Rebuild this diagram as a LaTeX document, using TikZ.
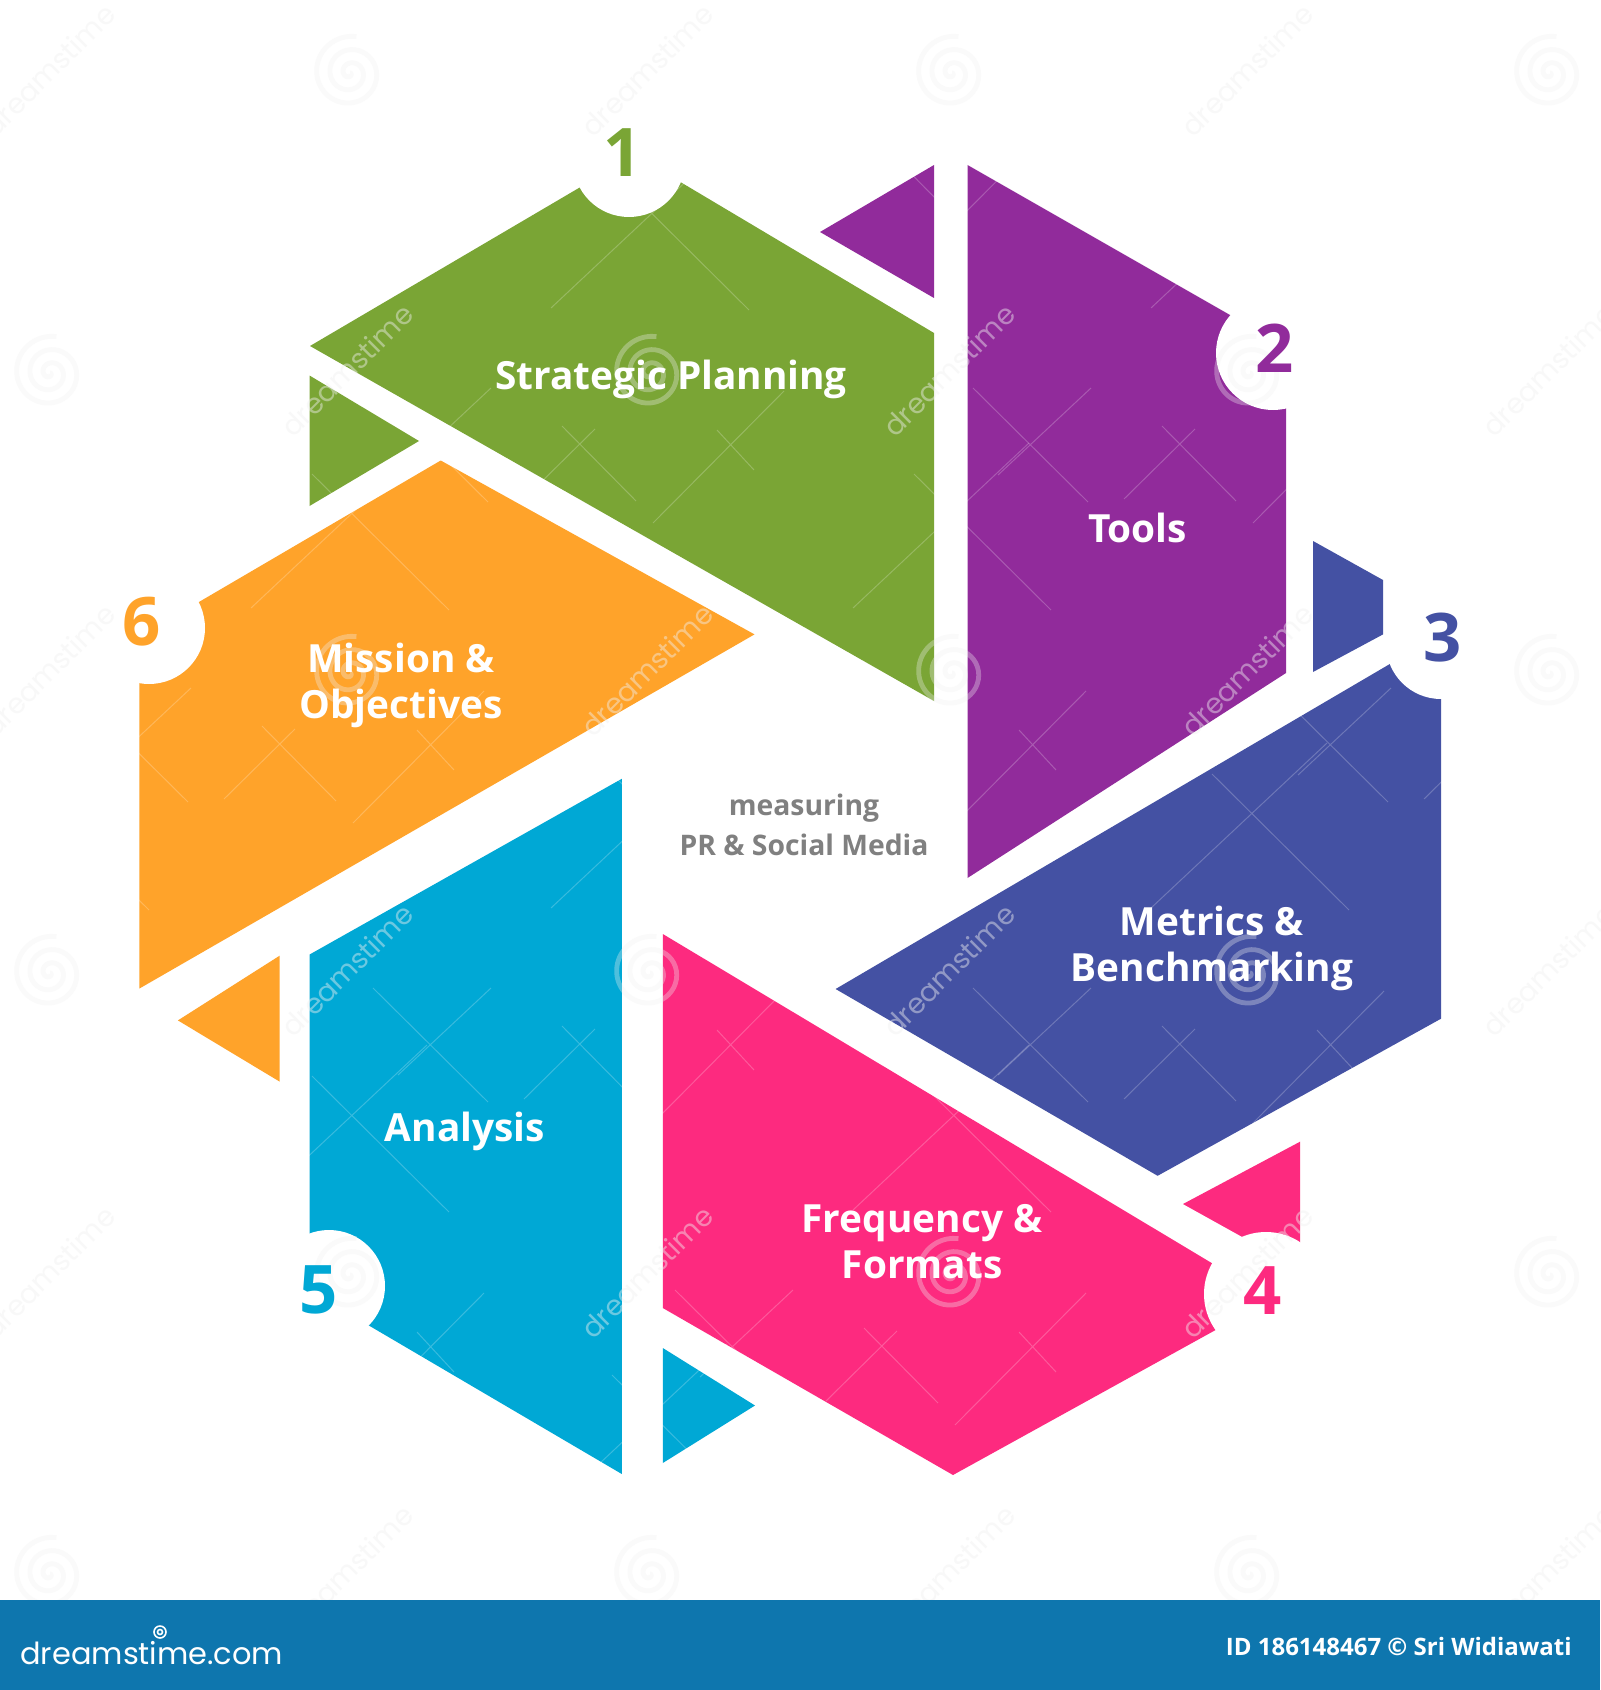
\documentclass[tikz,border=0pt]{standalone}
\usepackage{fontspec}
\setmainfont{Open Sans}
\newfontfamily\wmfont{Poppins}
\definecolor{cgreen}{HTML}{7AA535}
\definecolor{cpurple}{HTML}{912B9B}
\definecolor{cindigo}{HTML}{4451A3}
\definecolor{cpink}{HTML}{FD2A7F}
\definecolor{ccyan}{HTML}{00A8D5}
\definecolor{corange}{HTML}{FFA32A}
\definecolor{cbanner}{HTML}{0E76AE}
\definecolor{ctext}{HTML}{808080}
\definecolor{cmark}{HTML}{F0F0F0}
\tikzset{
  notch/.style={fill=white,draw=none},
  label/.style={text=white,font=\bfseries\fontsize{19.4}{23}\selectfont,align=center,inner sep=0pt},
  num/.style={font=\bfseries\fontsize{33.5}{34}\selectfont,inner sep=0pt},
  mline/.style={draw=cmark,opacity=0.33,line width=2.4pt},
  mtext/.style={text=cmark,text opacity=0.45,rotate=45,inner sep=0pt,font=\wmfont\fontsize{14}{14}\selectfont},
  lattice/.style={draw=white,opacity=0.22,line width=0.5pt},
}
\newcommand{\wmspiral}[2]{\draw[mline] plot[variable=\t,domain=0:1000,samples=110,smooth] ({#1+0.037*\t*cos(\t)},{#2+0.037*\t*sin(\t)});}
\newcommand{\wmlattice}[2]{\begin{scope}[shift={(#1,#2)}]
\draw[lattice] (-38,-199) -- (99,-63) (77,-230) -- (-99,-65);
\draw[lattice] (-277,15) -- (-162,129) (-252,102) -- (-159,15);
\draw[lattice] (-88,53) -- (-14,128) (-126,126) -- (-55,56);
\draw[lattice] (67,57) -- (104,97) (3,150) -- (134,18);
\end{scope}}
\begin{document}
\begin{tikzpicture}[x=0.5pt,y=-0.5pt]
\useasboundingbox (0,0) rectangle (1600,1690);
\fill[white] (0,0) rectangle (1600,1690);
% main shapes
\fill[cgreen] (310,346) -- (635,155) -- (934,333) -- (934,701) -- cycle;
\fill[cgreen] (309.5,375.5) -- (419,441) -- (309.5,506) -- cycle;
\fill[cpurple] (967.5,165) -- (1286,347) -- (1286,673) -- (967.5,878) -- cycle;
\fill[cpurple] (934,165) -- (820,232) -- (934,298) -- cycle;
\fill[cindigo] (835.6,989) -- (1441,634) -- (1441,1018.7) -- (1157.6,1175.8) -- cycle;
\fill[cindigo] (1313,541) -- (1383,580) -- (1383,634.4) -- (1313,672) -- cycle;
\fill[cpink] (662.8,934) -- (1271.7,1299) -- (953,1475) -- (662.8,1308) -- cycle;
\fill[cpink] (1300,1141.7) -- (1183,1204) -- (1300,1269) -- cycle;
\fill[ccyan] (309.6,954.5) -- (621.8,778.8) -- (621.8,1474) -- (309.6,1290.7) -- cycle;
\fill[ccyan] (662.8,1348) -- (755,1405.5) -- (662.8,1463) -- cycle;
\fill[corange] (440.7,460.5) -- (754.5,634.4) -- (139.3,988.6) -- (139.3,636.9) -- cycle;
\fill[corange] (279.6,955.7) -- (177.9,1020.4) -- (279.6,1081.6) -- cycle;
% notches
\fill[notch] (629,161) circle (56);
\fill[notch] (1273,353) circle (57);
\fill[notch] (1441,644) circle (55);
\fill[notch] (1266,1294) circle (62);
\fill[notch] (329,1286) circle (56);
\fill[notch] (149,628) circle (56);
% watermark
\foreach \px in {350,952,1550}{\foreach \py in {73,673,1275}{\wmspiral{\px}{\py}\wmlattice{\px}{\py}}}
\foreach \px in {50,650,1250}{\foreach \py in {373,973,1574}{\wmspiral{\px}{\py}\wmlattice{\px}{\py}}}
\foreach \px in {49,647,1247}{\foreach \py in {70,670,1272}{\node[mtext] at (\px,\py) {dreamstime};}}
\foreach \px in {347,949,1548}{\foreach \py in {370,970,1571}{\node[mtext] at (\px,\py) {dreamstime};}}
% labels
\node[label] (l1) at (671,379) {Strategic Planning};
\node[label] (l2) at (1137.5,528) {Tools};
\node[label] (l3) at (1212,948) {Metrics \&\\Benchmarking};
\node[label] (l4) at (922,1242) {Frequency \&\\Formats};
\node[label] (l5) at (465,1131) {Analysis};
\node[label] (l6) at (401,685) {Mission \&\\Objectives};
\node[text=ctext,font=\bfseries\fontsize{14.15}{20}\selectfont,align=center,inner sep=0pt] (c) at (804,825) {measuring\\PR \& Social Media};
% numbers
\node[num,text=cgreen] (n1) at (623,153) {1};
\node[num,text=cpurple] (n2) at (1275,348) {2};
\node[num,text=cindigo] (n3) at (1443,638) {3};
\node[num,text=cpink] (n4) at (1263,1291) {4};
\node[num,text=ccyan] (n5) at (319,1290) {5};
\node[num,text=corange] (n6) at (142,622) {6};
% banner
\fill[cbanner] (0,1600) rectangle (1600,1690);
\node[text=white,font=\wmfont\fontsize{15.2}{16}\selectfont,anchor=west,inner sep=0pt] (b1) at (20,1653) {dreamstime.com};
\draw[white,line width=0.8pt] (160,1632) circle (6) (160,1632) circle (2.5);
\node[text=white,font=\bfseries\fontsize{12}{14}\selectfont,anchor=east,inner sep=0pt] (b2) at (1572,1646) {ID 186148467 © Sri Widiawati};
\end{tikzpicture}
\end{document}
